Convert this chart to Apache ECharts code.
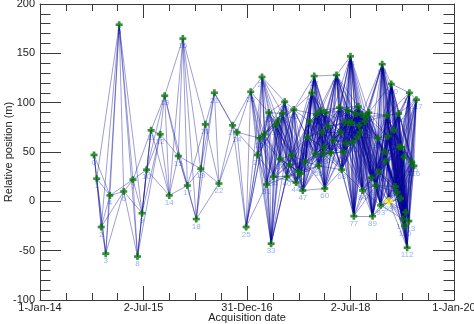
<!DOCTYPE html>
<html>
<head>
<meta charset="utf-8">
<script src="https://cdn.jsdelivr.net/npm/echarts@6/dist/echarts.min.js"></script>
<style>
  html, body { margin: 0; padding: 0; background: #fff; }
  #chart { width: 474px; height: 324px; }
</style>
</head>
<body>
<div id="chart"></div>
<script>
// Acquisition dates of the SAR scenes (index = image number)
const acquisitionDates = [
  '2014-10-14', '2014-10-28', '2014-11-21', '2014-12-15', '2015-01-06',
  '2015-02-24', '2015-03-20', '2015-05-08', '2015-06-01', '2015-06-25',
  '2015-07-19', '2015-08-12', '2015-09-29', '2015-10-23', '2015-11-16',
  '2016-01-03', '2016-01-27', '2016-02-20', '2016-04-07', '2016-05-01',
  '2016-05-25', '2016-07-12', '2016-08-05', '2016-10-16', '2016-11-09',
  '2016-12-27', '2017-01-20', '2017-02-25', '2017-03-09', '2017-03-21',
  '2017-04-02', '2017-04-14', '2017-04-26', '2017-05-08', '2017-05-20',
  '2017-06-01', '2017-06-13', '2017-06-25', '2017-07-07', '2017-07-19',
  '2017-07-31', '2017-08-12', '2017-08-24', '2017-09-05', '2017-09-17',
  '2017-09-29', '2017-10-11', '2017-10-23', '2017-11-04', '2017-11-16',
  '2017-11-28', '2017-12-10', '2017-12-22', '2017-12-28', '2018-01-03',
  '2018-01-15', '2018-01-27', '2018-02-02', '2018-02-08', '2018-02-12',
  '2018-02-16', '2018-02-21', '2018-03-05', '2018-03-19', '2018-04-02',
  '2018-04-19', '2018-05-05', '2018-05-11', '2018-05-17', '2018-05-25',
  '2018-06-01', '2018-06-07', '2018-06-19', '2018-06-25', '2018-07-02',
  '2018-07-08', '2018-07-13', '2018-07-20', '2018-07-29', '2018-08-06',
  '2018-08-12', '2018-08-17', '2018-08-23', '2018-08-30', '2018-09-04',
  '2018-09-16', '2018-09-24', '2018-10-07', '2018-10-21', '2018-10-27',
  '2018-11-12', '2018-11-23', '2018-11-29', '2018-12-09', '2018-12-17',
  '2018-12-29', '2019-01-05', '2019-01-10', '2019-01-17', '2019-01-22',
  '2019-02-03', '2019-02-16', '2019-02-25', '2019-03-06', '2019-03-14',
  '2019-03-18', '2019-03-24', '2019-03-30', '2019-04-06', '2019-04-11',
  '2019-04-16', '2019-04-20', '2019-04-28', '2019-05-07', '2019-05-10',
  '2019-05-22', '2019-06-03', '2019-06-16'
];

// Relative (perpendicular) position of each acquisition, metres
const relativePosition = [
  47, 23, -26, -53, 6, 179, 10, 22, -56, -12,
  32, 72, 68, 107, 6, 46, 165, 16, -18, 33,
  78, 110, 18, 77, 70, -26, 111, 47, 64, 126,
  68, 17, 90, -43, 25, 77, 82, 43, 89, 101,
  25, 37, 47, 93, 19, 30, 28, 11, 40, 65,
  81, 110, 127, 48, 88, 36, 92, 70, 48, 55,
  13, 90, 76, 49, 62, 128, 95, 70, 32, 50,
  80, 59, 92, 80, 147, 80, 60, -15, 89, 65,
  96, 77, 70, 88, 11, 81, 86, 90, 24, -15,
  16, 64, 30, -4, 139, 50, 41, 87, 66, 0,
  119, 72, 15, 9, 89, 55, 3, 55, -18, 45,
  -25, -11, -47, -20, 110, 40, 36, 103
];

// Interferometric pairs: image i is paired with every image i+1 .. linkReach[i]
const linkReach = [
  4, 5, 6, 6, 7, 9, 9, 11, 12, 12,
  14, 14, 15, 17, 17, 19, 20, 20, 22, 22,
  22, 24, 24, 26, 28, 32, 34, 36, 38, 39,
  40, 41, 42, 43, 44, 45, 46, 47, 48, 48,
  50, 51, 52, 54, 54, 56, 58, 61, 61, 63,
  63, 64, 65, 65, 65, 68, 69, 70, 71, 71,
  71, 72, 74, 76, 78, 81, 84, 84, 84, 85,
  86, 86, 87, 88, 89, 89, 89, 90, 91, 92,
  93, 93, 94, 94, 95, 97, 99, 100, 101, 101,
  103, 105, 107, 108, 110, 112, 112, 114, 114, 115,
  116, 117, 117, 117, 117, 117, 117, 117, 117, 117,
  117, 117, 117, 117, 117, 117, 117, 117
];

// Super-master (reference) acquisition
const referenceIndex = 99;

// Date axis: 1-Jan-14 .. 1-Jan-20 in four equal steps
const xTickLabels = ['1-Jan-14', '2-Jul-15', '31-Dec-16', '2-Jul-18', '1-Jan-20'];
const axisStartDate = '2014-01-01';
const axisEndDate = '2020-01-01';

function dayNumber(s) {
  const [y, m, d] = s.split('-').map(Number);
  return Date.UTC(y, m - 1, d) / 86400000;
}
const day0 = dayNumber(axisStartDate);
const axisSpan = dayNumber(axisEndDate) - day0;
const tickStep = axisSpan / (xTickLabels.length - 1);

const nodes = acquisitionDates.map((s, i) => [dayNumber(s) - day0, relativePosition[i], i]);

const pairLines = [];
nodes.forEach((a, i) => {
  for (let j = i + 1; j <= linkReach[i]; j++) {
    const b = nodes[j];
    pairLines.push({ coords: [[a[0], a[1]], [b[0], b[1]]] });
  }
});

// rounded plus marker
const plusPath = 'path://M3.2,0H6.8L7,3L10,3.2V6.8L7,7L6.8,10H3.2L3,7L0,6.8V3.2L3,3Z';
const axisColor = '#3a3a3a';
const font = 'Liberation Sans';

const xCommon = {
  type: 'value', min: 0, max: axisSpan, interval: tickStep,
  axisLine: { show: true, onZero: false, lineStyle: { color: axisColor, width: 1 } },
  axisTick: { show: true, inside: true, length: 14, lineStyle: { color: axisColor } },
  minorTick: { show: true, splitNumber: 4, length: 7, lineStyle: { color: axisColor } },
  splitLine: { show: false }
};
const yCommon = {
  type: 'value', min: -100, max: 200, interval: 50,
  axisLine: { show: true, onZero: false, lineStyle: { color: axisColor, width: 1 } },
  axisTick: { show: true, inside: true, length: 21, lineStyle: { color: axisColor } },
  minorTick: { show: true, splitNumber: 5, length: 10.5, lineStyle: { color: axisColor } },
  splitLine: { show: false }
};

const chart = echarts.init(document.getElementById('chart'), null, { renderer: 'canvas' });
chart.setOption({
  animation: false,
  backgroundColor: '#ffffff',
  textStyle: { fontFamily: font },
  grid: { left: 40, right: 20, top: 4, bottom: 24, containLabel: false, outerBoundsMode: 'none' },
  xAxis: [
    Object.assign({}, xCommon, {
      position: 'bottom',
      name: 'Acquisition date', nameLocation: 'middle', nameGap: 12, nameMoveOverlap: false,
      nameTextStyle: { fontSize: 11, color: '#222', fontFamily: font, lineHeight: 11 },
      axisLabel: {
        show: true, margin: 2, fontSize: 11, color: '#222', fontFamily: font,
        formatter: v => xTickLabels[Math.round(v / tickStep)] || ''
      }
    }),
    Object.assign({}, xCommon, { position: 'top', axisLabel: { show: false } })
  ],
  yAxis: [
    Object.assign({}, yCommon, {
      position: 'left',
      name: 'Relative position (m)', nameLocation: 'middle', nameGap: 26, nameMoveOverlap: false,
      nameTextStyle: { fontSize: 11, color: '#222', fontFamily: font, lineHeight: 11 },
      axisLabel: { show: true, margin: 5, fontSize: 11, color: '#222', fontFamily: font }
    }),
    Object.assign({}, yCommon, { position: 'right', axisLabel: { show: false } })
  ],
  series: [
    {
      // image numbers, drawn beneath the pair lines
      type: 'scatter', z: 1, silent: true,
      symbolSize: 3, itemStyle: { color: 'rgba(0,0,0,0)' },
      data: nodes,
      label: {
        show: true, position: 'bottom', distance: 2,
        formatter: p => String(p.value[2]),
        fontSize: 8, color: '#7d9fea', fontFamily: font
      },
      labelLayout: { hideOverlap: false }
    },
    {
      type: 'lines', coordinateSystem: 'cartesian2d', z: 2, silent: true,
      polyline: false,
      lineStyle: { color: 'rgba(0,0,150,0.45)', width: 0.85, opacity: 1 },
      data: pairLines
    },
    {
      type: 'scatter', z: 3, silent: true,
      symbol: plusPath, symbolSize: 7,
      itemStyle: { color: '#067406' },
      data: nodes.filter((n, i) => i !== referenceIndex)
    },
    {
      type: 'scatter', z: 4, silent: true,
      symbol: plusPath, symbolSize: 8,
      itemStyle: { color: '#ffff00' },
      data: [nodes[referenceIndex]]
    }
  ]
});
</script>
</body>
</html>
